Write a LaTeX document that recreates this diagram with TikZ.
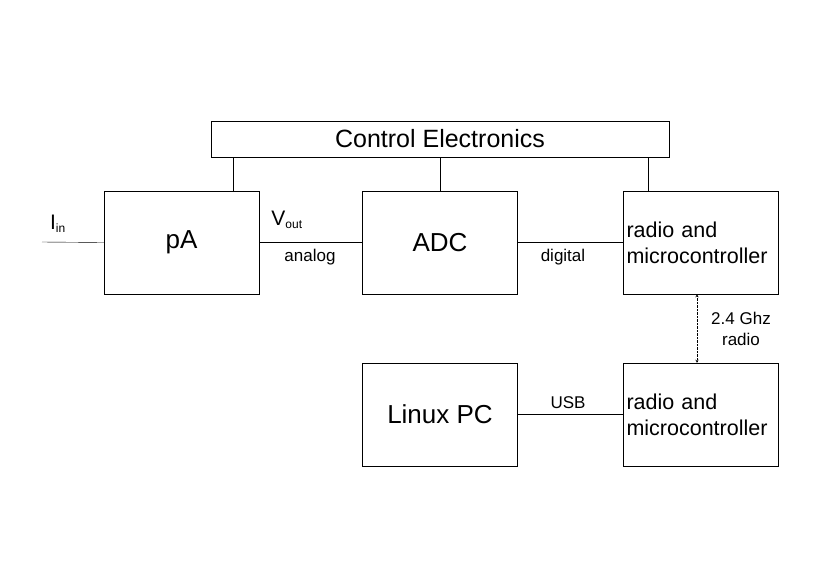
\documentclass[tikz,border=0pt]{standalone}
\usepackage{fontspec}
\setmainfont{Liberation Sans}
\usetikzlibrary{positioning,arrows}
\begin{document}
\begin{tikzpicture}[x=1pt,y=-1pt]
	\tikzset{block/.style = {draw, minimum width = 155pt, minimum height = 103pt, inner sep = 0pt, font = \fontsize{26}{30}\selectfont}}
	\tikzset{radio/.style = {block, align = left, text width = 149pt, font = \fontsize{21.5}{26}\selectfont}}
	\tikzset{lbl/.style = {font = \fontsize{17}{21}\selectfont}}
	\useasboundingbox (0,0) rectangle (830,587);

%% Boxes
\node[draw, minimum width = 458pt, minimum height = 36pt, inner sep = 0pt, font = \fontsize{25}{29}\selectfont] (ctrl) at (440,139) {Control Electronics};
\node[block] (pa) at (181.5,242.5) {pA};
\node[block] (adc) at (440,242.5) {ADC};
\node[radio] (rtop) at (701,242.5) {radio and\\microcontroller};
\node[block] (pc) at (440,414.5) {Linux PC};
\node[radio] (rbot) at (701,414.5) {radio and\\microcontroller};

%% Free end
\coordinate (in) at (42,242);

%% Edges
\draw (in) -- (pa.west);
\draw (pa.east) -- (adc.west);
\draw (adc.east) -- (rtop.west);
\draw (pc.east) -- (rbot.west);
\draw (ctrl.south -| 233,0) -- (pa.north -| 233,0);
\draw (ctrl.south) -- (adc.north);
\draw (ctrl.south -| 648,0) -- (rtop.north -| 648,0);
\draw[<->, >=stealth, densely dotted] (rtop.south -| 697,0) -- (rbot.north -| 697,0);

%% Labels
\node[font = \fontsize{21}{24}\selectfont] (iin) at (58,224) {I\textsubscript{\fontsize{12}{13}\selectfont in}};
\node[font = \fontsize{21}{24}\selectfont] (vout) at (287,220) {V\textsubscript{\fontsize{12}{13}\selectfont out}};
\node[lbl] (analog) at (310,257) {analog};
\node[lbl] (digital) at (563,257) {digital};
\node[lbl] (usb) at (568,403) {USB};
\node[lbl, align = center] (ghz) at (741,329) {2.4 Ghz\\radio};
\end{tikzpicture}
\end{document}
